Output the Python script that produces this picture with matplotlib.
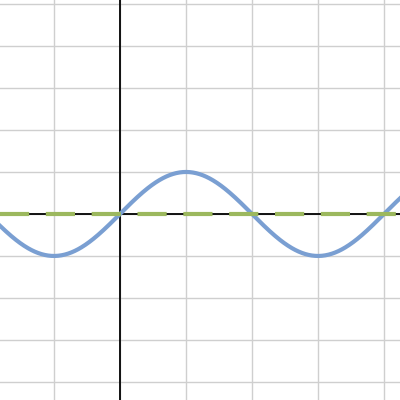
import numpy as np
import matplotlib
matplotlib.use("Agg")
import matplotlib.pyplot as plt

# grid units: one x step = pi/2, one y step = 1
x_min, x_max = -1.818, 4.242
y_min, y_max = -4.43, 5.095
amplitude = 1.0
period_units = 4.0
baseline = 0.0

xs = np.linspace(x_min, x_max, 600)
ys = amplitude * np.sin(2 * np.pi * xs / period_units)

fig = plt.figure(figsize=(4, 4), dpi=100)
ax = fig.add_axes([0, 0, 1, 1])
ax.set_xlim(x_min, x_max)
ax.set_ylim(y_min, y_max)

for gx in range(-1, 5):
    ax.axvline(gx, color="#cfcfcf", lw=1, zorder=0)
for gy in range(-4, 6):
    ax.axhline(gy, color="#cfcfcf", lw=1, zorder=0)
ax.axvline(0, color="black", lw=1.3, zorder=1)
ax.axhline(0, color="black", lw=1.3, zorder=1)

ax.plot(xs, ys, color="#7a9fd2", lw=3, zorder=2)
ax.axhline(baseline, color="#9cb85e", lw=3, ls=(0, (7, 4)), zorder=3)

ax.set_xticks([])
ax.set_yticks([])
for s in ax.spines.values():
    s.set_visible(False)

fig.savefig("out.png", dpi=100)
